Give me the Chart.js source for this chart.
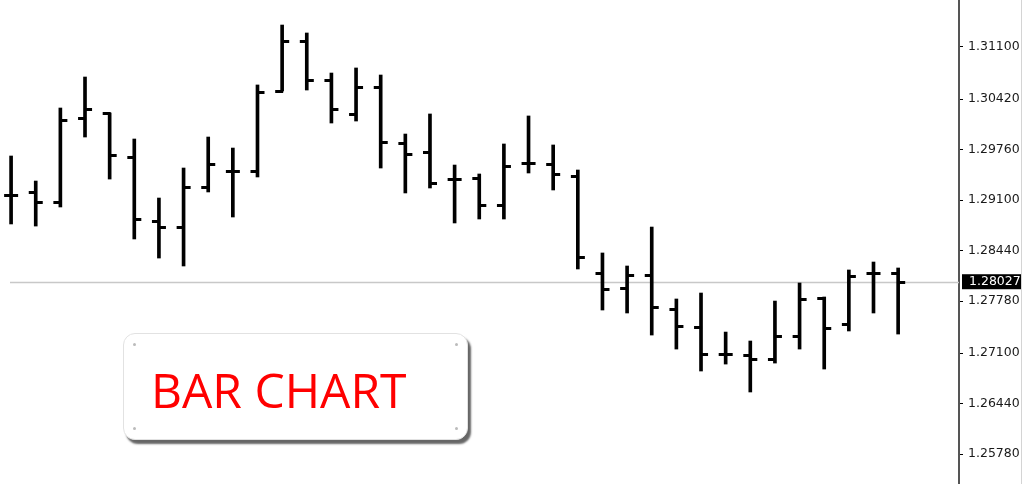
<!DOCTYPE html>
<html>
<head>
<meta charset="utf-8">
<script src="https://cdn.jsdelivr.net/npm/chart.js@4.4.1/dist/chart.umd.min.js"></script>
<style>
  body { margin: 0; background: #fff; }
  #wrap { position: relative; width: 1024px; height: 484px; overflow: hidden; }
  #label {
    position: absolute; left: 123px; top: 333px; width: 343px; height: 105px;
    background: #fff; border: 1px solid #e2e2e2; border-radius: 12px;
    box-shadow: 3px 4px 2px rgba(0, 0, 0, 0.6);
  }
  #label .t {
    position: absolute; left: 27px; top: 32px;
    font: 48px 'Open Sans'; line-height: 1; color: #ff0000; white-space: nowrap;
  }
  #label i { position: absolute; width: 3px; height: 3px; background: #bbb; border-radius: 2px; }
</style>
</head>
<body>
<div id="wrap">
  <canvas id="ctx" width="1024" height="484"></canvas>
  <div id="label">
    <i style="left:9px;top:9px"></i><i style="right:9px;top:9px"></i>
    <i style="left:9px;bottom:9px"></i><i style="right:9px;bottom:9px"></i>
    <span class="t">BAR CHART</span>
  </div>
</div>
<script>
// OHLC bars, oldest first
const open  = [1.29166, 1.29193, 1.29062, 1.30172, 1.30225, 1.29650, 1.28814, 1.28748, 1.29271, 1.29480,
               1.29480, 1.30525, 1.31178, 1.30656, 1.30212, 1.30577, 1.29833, 1.29728, 1.29375, 1.29388,
               1.29023, 1.29584, 1.29571, 1.29402, 1.28147, 1.27951, 1.28121, 1.27677, 1.27429, 1.27089,
               1.27076, 1.27024, 1.27324, 1.27808, 1.27481, 1.28147, 1.28147];
const high  = [1.29676, 1.29349, 1.30303, 1.30708, 1.30238, 1.29898, 1.29127, 1.29519, 1.29924, 1.29780,
               1.30604, 1.31387, 1.31283, 1.30760, 1.30826, 1.30734, 1.29963, 1.30225, 1.29558, 1.29441,
               1.29833, 1.30199, 1.29820, 1.29493, 1.28409, 1.28239, 1.28748, 1.27808, 1.27886, 1.27376,
               1.27259, 1.27781, 1.28017, 1.27834, 1.28187, 1.28291, 1.28213];
const low   = [1.28788, 1.28761, 1.29010, 1.29924, 1.29375, 1.28592, 1.28343, 1.28239, 1.29206, 1.28879,
               1.29402, 1.30525, 1.30538, 1.30107, 1.30133, 1.29519, 1.29193, 1.29258, 1.28801, 1.28853,
               1.28853, 1.29454, 1.29232, 1.28200, 1.27664, 1.27625, 1.27337, 1.27154, 1.26867, 1.26958,
               1.26593, 1.26971, 1.27154, 1.26893, 1.27390, 1.27625, 1.27350];
const close = [1.29166, 1.29062, 1.30146, 1.30290, 1.29689, 1.28840, 1.28748, 1.29271, 1.29571, 1.29480,
               1.30512, 1.31178, 1.30656, 1.30290, 1.30577, 1.29846, 1.29702, 1.29323, 1.29375, 1.29023,
               1.29545, 1.29584, 1.29428, 1.28356, 1.27938, 1.28121, 1.27703, 1.27455, 1.27089, 1.27089,
               1.27024, 1.27324, 1.27795, 1.27416, 1.28108, 1.28147, 1.28027];
const currentPrice = 1.28027;
const yTicks = [1.25780, 1.26440, 1.27100, 1.27780, 1.28440, 1.29100, 1.29760, 1.30420, 1.31100, 1.31780];

const idx = open.map((_, i) => i);

// little horizontal dash used as point style: open to the left, close to the right
function tickMark(side) {
  const c = document.createElement('canvas');
  c.width = 16; c.height = 3;
  const g = c.getContext('2d');
  g.fillStyle = '#000';
  if (side === 'left') g.fillRect(1, 0, 8, 3);
  else g.fillRect(7, 0, 8, 3);
  return c;
}

const priceLine = {
  id: 'priceLine',
  beforeDatasetsDraw(chart) {
    const {ctx, chartArea, scales: {y}} = chart;
    const py = Math.round(y.getPixelForValue(currentPrice)) + 0.5;
    ctx.save();
    ctx.strokeStyle = '#c8c8c8';
    ctx.lineWidth = 1.5;
    ctx.beginPath();
    ctx.moveTo(10, py);
    ctx.lineTo(chartArea.right, py);
    ctx.stroke();
    ctx.restore();
  },
  afterDraw(chart) {
    const {ctx, chartArea, scales: {y}} = chart;
    const py = y.getPixelForValue(currentPrice);
    ctx.save();
    ctx.fillStyle = '#000';
    ctx.fillRect(chartArea.right + 3, py - 8, 60, 15);
    ctx.fillStyle = '#fff';
    ctx.font = '12.5px "DejaVu Sans"';
    ctx.textBaseline = 'middle';
    ctx.fillText(currentPrice.toFixed(5), chartArea.right + 10, py);
    // window frame on the far right
    ctx.strokeStyle = '#d4d4d4';
    ctx.lineWidth = 1;
    ctx.beginPath();
    ctx.moveTo(1021.5, 0);
    ctx.lineTo(1021.5, chart.height);
    ctx.stroke();
    ctx.restore();
  }
};

new Chart(document.getElementById('ctx'), {
  type: 'bar',
  data: {
    datasets: [
      {
        type: 'bar',
        data: idx.map(i => ({x: i, y: [low[i], high[i]]})),
        backgroundColor: '#000',
        borderWidth: 0,
        barThickness: 3,
        grouped: false
      },
      {
        type: 'scatter',
        data: idx.map(i => ({x: i, y: open[i]})),
        pointStyle: tickMark('left'),
        pointRadius: 4
      },
      {
        type: 'scatter',
        data: idx.map(i => ({x: i, y: close[i]})),
        pointStyle: tickMark('right'),
        pointRadius: 4
      }
    ]
  },
  options: {
    responsive: false,
    animation: false,
    layout: { padding: 0, autoPadding: false },
    plugins: { legend: { display: false }, tooltip: { enabled: false } },
    scales: {
      x: { type: 'linear', display: false, offset: false, min: -0.45, max: 38.47 },
      y: {
        position: 'right',
        min: 1.25391,
        max: 1.31714,
        afterBuildTicks: s => { s.ticks = yTicks.map(v => ({value: v})); },
        afterFit: s => { s.width = 65; s.paddingTop = 0; s.paddingBottom = 0; },
        ticks: {
          autoSkip: false,
          padding: 5,
          color: '#1a1a1a',
          font: { family: 'DejaVu Sans', size: 12.5 },
          callback: v => Number(v).toFixed(5)
        },
        grid: { drawOnChartArea: false, tickLength: 4, color: '#000' },
        border: { color: '#555', width: 2 }
      }
    }
  },
  plugins: [priceLine]
});
</script>
</body>
</html>
